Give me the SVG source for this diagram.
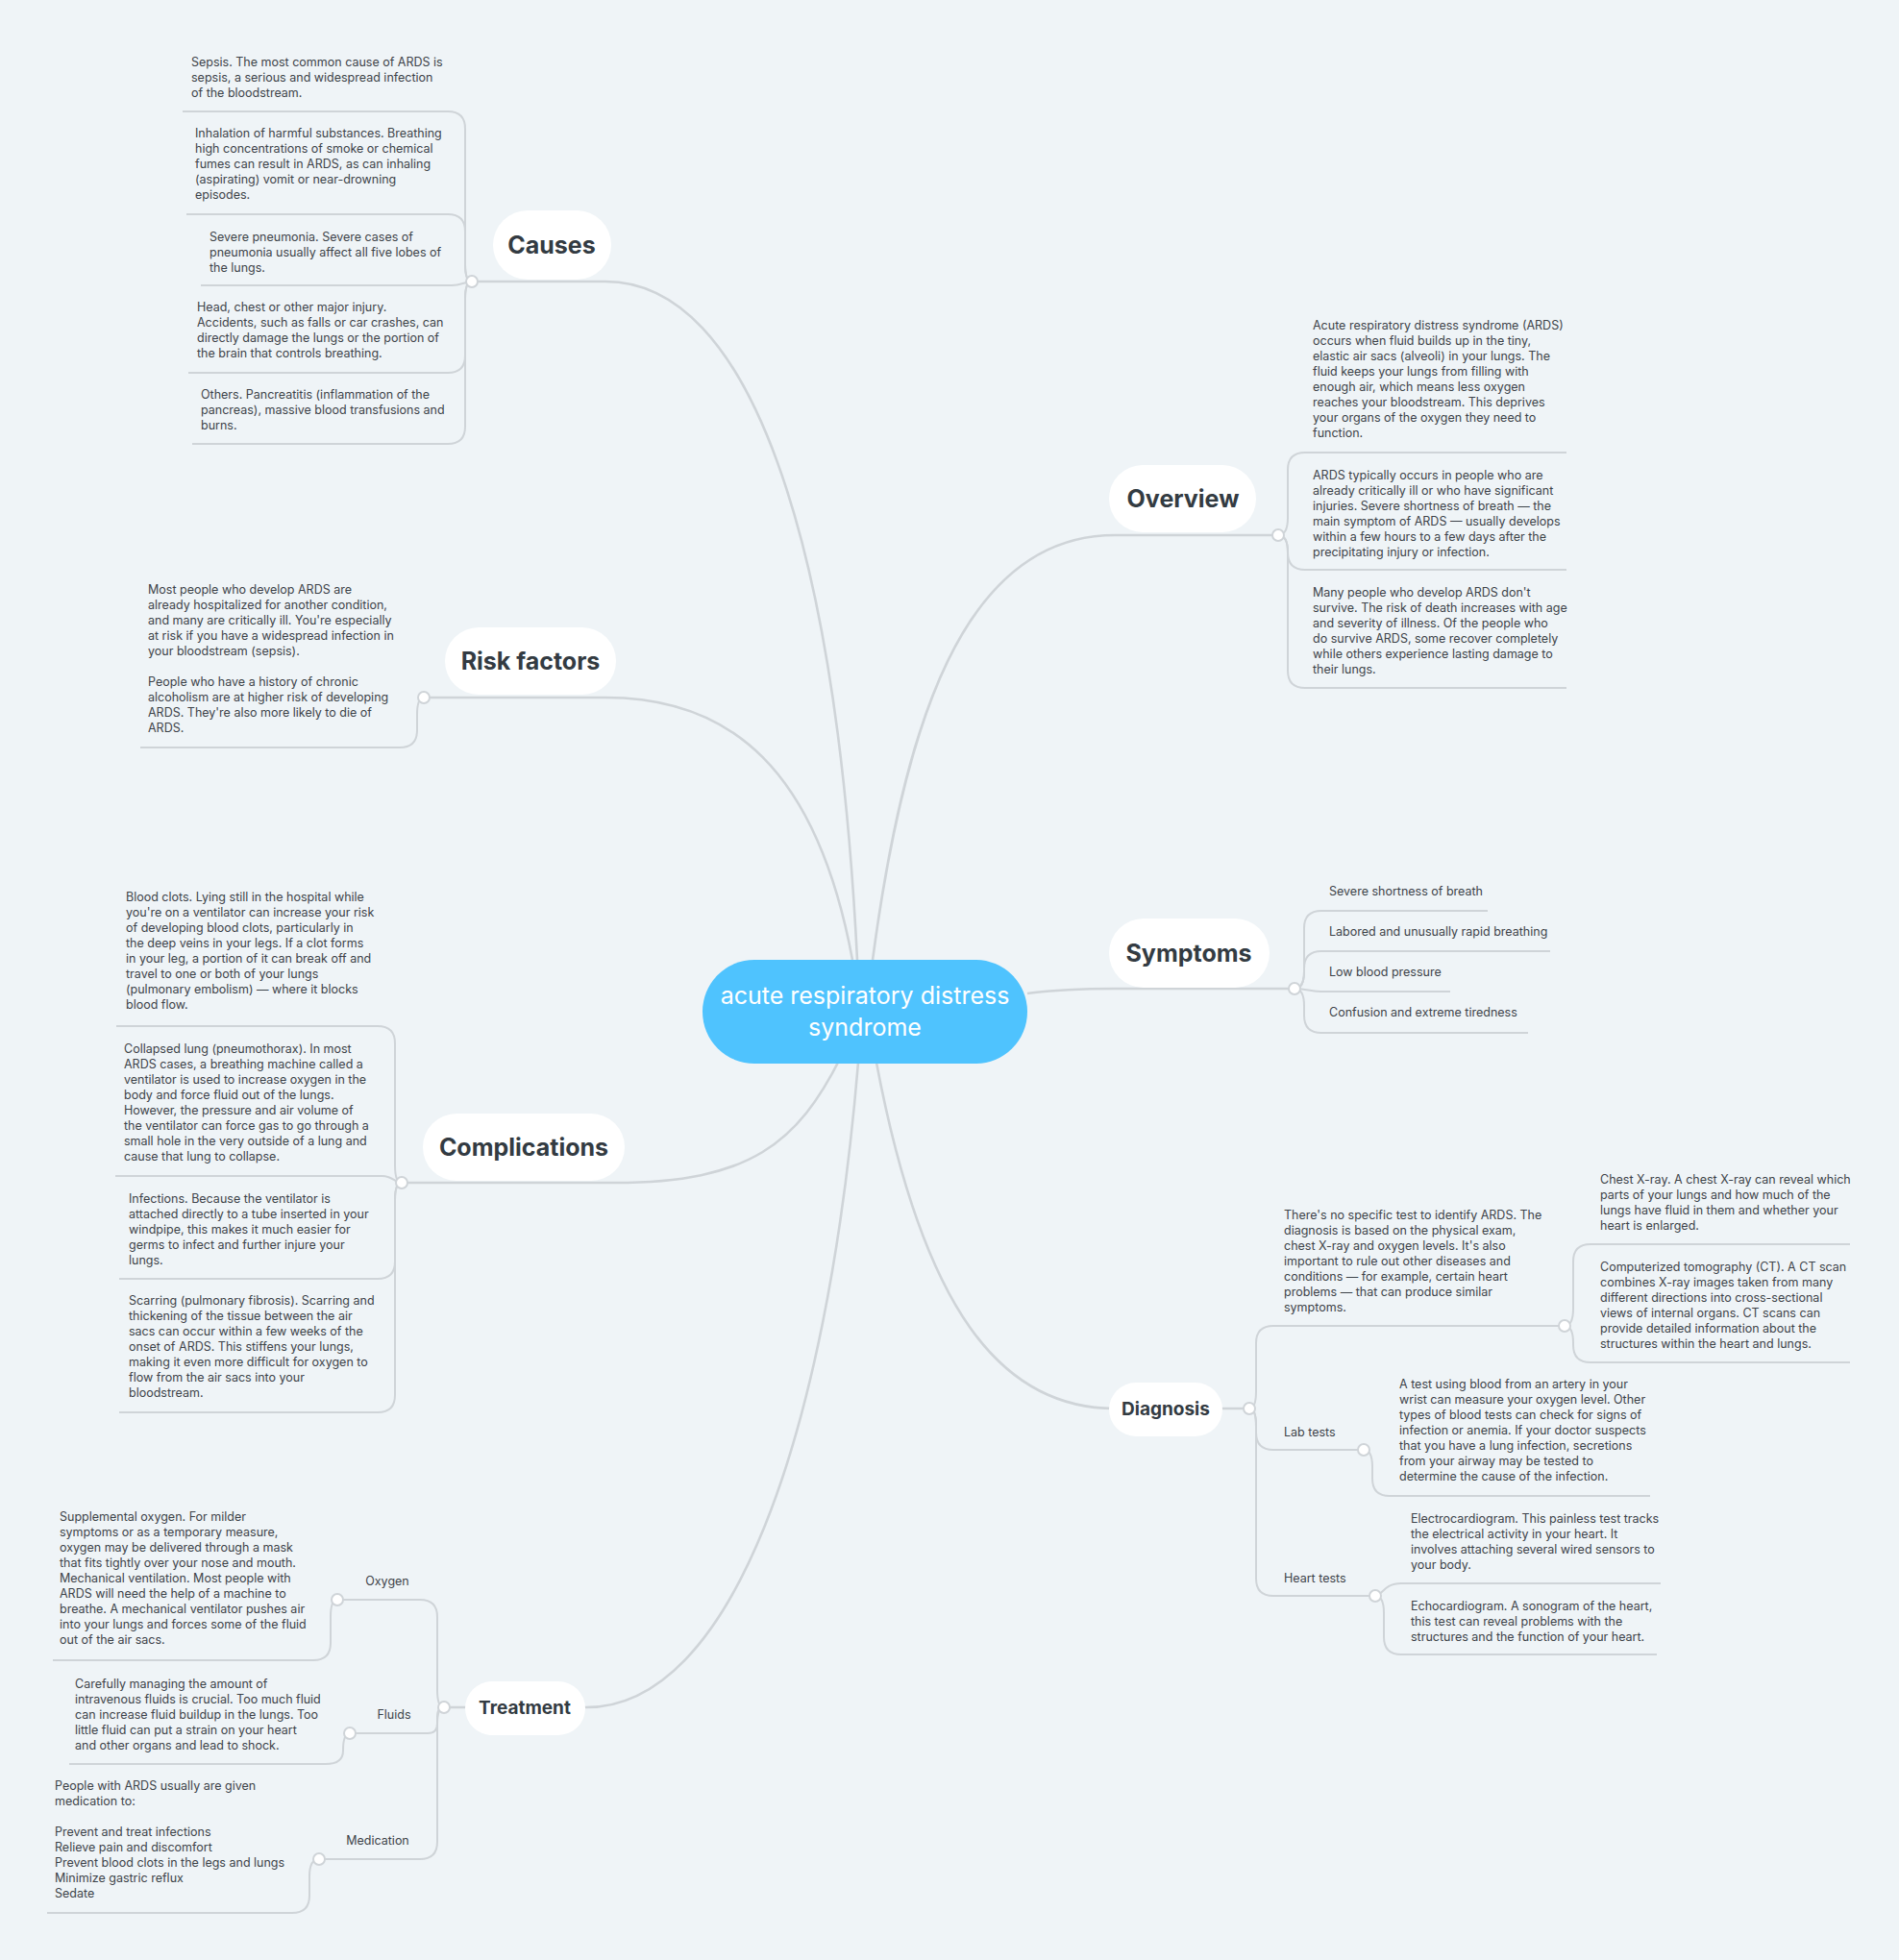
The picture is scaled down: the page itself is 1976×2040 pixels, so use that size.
<svg xmlns="http://www.w3.org/2000/svg" width="1976" height="2040" viewBox="0 0 1976 2040">
<style>
.bg{fill:#eff4f7}
.l{fill:none;stroke:#cfd4d8;stroke-width:2}
.m{fill:none;stroke:#cfd4d8;stroke-width:2.6}
.j{fill:#fff;stroke:#cfd4d8;stroke-width:2}
.t{font-family:Inter,"Noto Sans",sans-serif;font-size:12.5px;fill:#3d4349}
.p{fill:#fff}
.h{font-family:Inter,"Noto Sans",sans-serif;font-weight:700;font-size:25px;fill:#333b42;text-anchor:middle}
.s{font-family:Inter,"Noto Sans",sans-serif;font-weight:700;font-size:19px;fill:#333b42;text-anchor:middle}
</style>
<rect class="bg" width="1976" height="2040"/>
<g id="connectors">
<path class="m" d="M892 999 C870 560 780 293 630 293 L497 293"/>
<path class="m" d="M887 999 C850 800 760 726 630 726 L447 726"/>
<path class="m" d="M875 1100 C830 1190 780 1231 640 1231 L424 1231"/>
<path class="m" d="M893 1106 C860 1500 760 1777 610 1777 L468 1777"/>
<path class="m" d="M908 999 C940 760 1000 557 1160 557 L1324 557"/>
<path class="m" d="M1069 1034 C1100 1030 1130 1029 1160 1029 L1341 1029"/>
<path class="m" d="M912 1106 C960 1360 1040 1466 1160 1466 L1294 1466"/>
<path class="l" d="M190 116 H466 Q484 116 484 134 V275 Q484 293 491 293"/>
<path class="l" d="M194 223 H466 Q484 223 484 241 V275 Q484 293 491 293"/>
<path class="l" d="M209 297 H470 C480 297 484 293 491 293"/>
<path class="l" d="M196 388 H466 Q484 388 484 370 V311 Q484 293 491 293"/>
<path class="l" d="M200 462 H466 Q484 462 484 444 V311 Q484 293 491 293"/>
<path class="l" d="M146 778 H416 Q434 778 434 760 V744 Q434 726 441 726"/>
<path class="l" d="M121 1068 H393 Q411 1068 411 1086 V1213 Q411 1231 418 1231"/>
<path class="l" d="M120 1224 H398 C408 1224 411 1231 418 1231"/>
<path class="l" d="M124 1331 H393 Q411 1331 411 1313 V1249 Q411 1231 418 1231"/>
<path class="l" d="M124 1470 H393 Q411 1470 411 1452 V1249 Q411 1231 418 1231"/>
<path class="l" d="M351 1665 H437 Q455 1665 455 1683 V1759 Q455 1777 462 1777"/>
<path class="l" d="M364 1804 H445 Q455 1804 455 1794 V1787 Q455 1777 462 1777"/>
<path class="l" d="M332 1935 H437 Q455 1935 455 1917 V1795 Q455 1777 462 1777"/>
<path class="l" d="M55 1728 H326 Q344 1728 344 1710 V1683 Q344 1665 351 1665"/>
<path class="l" d="M72 1836 H339 Q357 1836 357 1822 Q357 1804 364 1804"/>
<path class="l" d="M49 1991 H304 Q322 1991 322 1973 V1953 Q322 1935 332 1935"/>
<path class="l" d="M1330 557 Q1340 557 1340 539 V489 Q1340 471 1358 471 H1630"/>
<path class="l" d="M1330 557 Q1340 557 1340 575 Q1340 593 1358 593 H1630"/>
<path class="l" d="M1330 557 Q1340 557 1340 575 V698 Q1340 716 1358 716 H1630"/>
<path class="l" d="M1347 1029 Q1357 1029 1357 1011 V966 Q1357 948 1375 948 H1548"/>
<path class="l" d="M1347 1029 Q1357 1029 1357 1011 V1008 Q1357 990 1375 990 H1613"/>
<path class="l" d="M1347 1029 C1360 1029 1365 1032 1375 1032 H1509"/>
<path class="l" d="M1347 1029 Q1357 1029 1357 1047 V1057 Q1357 1075 1375 1075 H1590"/>
<path class="l" d="M1300 1466 Q1307 1466 1307 1448 V1398 Q1307 1380 1325 1380 H1628"/>
<path class="l" d="M1300 1466 Q1307 1466 1307 1484 V1491 Q1307 1509 1325 1509 H1419"/>
<path class="l" d="M1300 1466 Q1307 1466 1307 1484 V1643 Q1307 1661 1325 1661 H1431"/>
<path class="l" d="M1628 1380 Q1637 1380 1637 1362 V1313 Q1637 1295 1655 1295 H1925"/>
<path class="l" d="M1628 1380 Q1637 1380 1637 1398 V1400 Q1637 1418 1655 1418 H1925"/>
<path class="l" d="M1419 1509 Q1428 1509 1428 1527 V1539 Q1428 1557 1446 1557 H1717"/>
<path class="l" d="M1431 1661 C1438 1661 1440 1648 1458 1648 H1728"/>
<path class="l" d="M1431 1661 Q1440 1661 1440 1679 V1704 Q1440 1722 1458 1722 H1724"/>
<circle class="j" cx="491" cy="293" r="6"/>
<circle class="j" cx="441" cy="726" r="6"/>
<circle class="j" cx="418" cy="1231" r="6"/>
<circle class="j" cx="462" cy="1777" r="6"/>
<circle class="j" cx="351" cy="1665" r="6"/>
<circle class="j" cx="364" cy="1804" r="6"/>
<circle class="j" cx="332" cy="1935" r="6"/>
<circle class="j" cx="1330" cy="557" r="6"/>
<circle class="j" cx="1347" cy="1029" r="6"/>
<circle class="j" cx="1300" cy="1466" r="6"/>
<circle class="j" cx="1628" cy="1380" r="6"/>
<circle class="j" cx="1419" cy="1509" r="6"/>
<circle class="j" cx="1431" cy="1661" r="6"/>
</g>
<g id="root">
<rect x="731" y="999" width="338" height="108" rx="54" fill="#4fc3fe"/>
<text font-family="Inter,'Noto Sans',sans-serif" font-size="25" fill="#fff" text-anchor="middle"><tspan x="900" y="1045">acute respiratory distress</tspan><tspan x="900" y="1078">syndrome</tspan></text>
</g>
<g id="causes"><rect class="p" x="513" y="219" width="123" height="72" rx="36"/><text class="h" x="574" y="264">Causes</text></g>
<g id="overview"><rect class="p" x="1154" y="484" width="153" height="70" rx="35"/><text class="h" x="1231" y="528">Overview</text></g>
<g id="risk"><rect class="p" x="463" y="653" width="178" height="70" rx="35"/><text class="h" x="552" y="697">Risk factors</text></g>
<g id="symptoms"><rect class="p" x="1154" y="956" width="167" height="72" rx="36"/><text class="h" x="1237" y="1001">Symptoms</text></g>
<g id="complications"><rect class="p" x="440" y="1159" width="210" height="70" rx="35"/><text class="h" x="545" y="1203">Complications</text></g>
<g id="diagnosis"><rect class="p" x="1154" y="1439" width="118" height="56" rx="28"/><text class="s" x="1213" y="1473">Diagnosis</text></g>
<g id="treatment"><rect class="p" x="484" y="1750" width="125" height="56" rx="28"/><text class="s" x="546" y="1784">Treatment</text></g>
<g id="causes-items">
<text class="t"><tspan x="199" y="69">Sepsis. The most common cause of ARDS is</tspan><tspan x="199" y="85">sepsis, a serious and widespread infection</tspan><tspan x="199" y="101">of the bloodstream.</tspan></text>
<text class="t"><tspan x="203" y="143">Inhalation of harmful substances. Breathing</tspan><tspan x="203" y="159">high concentrations of smoke or chemical</tspan><tspan x="203" y="175">fumes can result in ARDS, as can inhaling</tspan><tspan x="203" y="191">(aspirating) vomit or near-drowning</tspan><tspan x="203" y="207">episodes.</tspan></text>
<text class="t"><tspan x="218" y="251">Severe pneumonia. Severe cases of</tspan><tspan x="218" y="267">pneumonia usually affect all five lobes of</tspan><tspan x="218" y="283">the lungs.</tspan></text>
<text class="t"><tspan x="205" y="324">Head, chest or other major injury.</tspan><tspan x="205" y="340">Accidents, such as falls or car crashes, can</tspan><tspan x="205" y="356">directly damage the lungs or the portion of</tspan><tspan x="205" y="372">the brain that controls breathing.</tspan></text>
<text class="t"><tspan x="209" y="415">Others. Pancreatitis (inflammation of the</tspan><tspan x="209" y="431">pancreas), massive blood transfusions and</tspan><tspan x="209" y="447">burns.</tspan></text>
</g>
<g id="risk-items">
<text class="t"><tspan x="154" y="618">Most people who develop ARDS are</tspan><tspan x="154" y="634">already hospitalized for another condition,</tspan><tspan x="154" y="650">and many are critically ill. You're especially</tspan><tspan x="154" y="666">at risk if you have a widespread infection in</tspan><tspan x="154" y="682">your bloodstream (sepsis).</tspan><tspan x="154" y="714">People who have a history of chronic</tspan><tspan x="154" y="730">alcoholism are at higher risk of developing</tspan><tspan x="154" y="746">ARDS. They're also more likely to die of</tspan><tspan x="154" y="762">ARDS.</tspan></text>
</g>
<g id="complications-items">
<text class="t"><tspan x="131" y="938">Blood clots. Lying still in the hospital while</tspan><tspan x="131" y="954">you're on a ventilator can increase your risk</tspan><tspan x="131" y="970">of developing blood clots, particularly in</tspan><tspan x="131" y="986">the deep veins in your legs. If a clot forms</tspan><tspan x="131" y="1002">in your leg, a portion of it can break off and</tspan><tspan x="131" y="1018">travel to one or both of your lungs</tspan><tspan x="131" y="1034">(pulmonary embolism) — where it blocks</tspan><tspan x="131" y="1050">blood flow.</tspan></text>
<text class="t"><tspan x="129" y="1096">Collapsed lung (pneumothorax). In most</tspan><tspan x="129" y="1112">ARDS cases, a breathing machine called a</tspan><tspan x="129" y="1128">ventilator is used to increase oxygen in the</tspan><tspan x="129" y="1144">body and force fluid out of the lungs.</tspan><tspan x="129" y="1160">However, the pressure and air volume of</tspan><tspan x="129" y="1176">the ventilator can force gas to go through a</tspan><tspan x="129" y="1192">small hole in the very outside of a lung and</tspan><tspan x="129" y="1208">cause that lung to collapse.</tspan></text>
<text class="t"><tspan x="134" y="1252">Infections. Because the ventilator is</tspan><tspan x="134" y="1268">attached directly to a tube inserted in your</tspan><tspan x="134" y="1284">windpipe, this makes it much easier for</tspan><tspan x="134" y="1300">germs to infect and further injure your</tspan><tspan x="134" y="1316">lungs.</tspan></text>
<text class="t"><tspan x="134" y="1358">Scarring (pulmonary fibrosis). Scarring and</tspan><tspan x="134" y="1374">thickening of the tissue between the air</tspan><tspan x="134" y="1390">sacs can occur within a few weeks of the</tspan><tspan x="134" y="1406">onset of ARDS. This stiffens your lungs,</tspan><tspan x="134" y="1422">making it even more difficult for oxygen to</tspan><tspan x="134" y="1438">flow from the air sacs into your</tspan><tspan x="134" y="1454">bloodstream.</tspan></text>
</g>
<g id="treatment-items">
<text class="t" x="403" y="1650" text-anchor="middle">Oxygen</text>
<text class="t" x="410" y="1789" text-anchor="middle">Fluids</text>
<text class="t" x="393" y="1920" text-anchor="middle">Medication</text>
<text class="t"><tspan x="62" y="1583">Supplemental oxygen. For milder</tspan><tspan x="62" y="1599">symptoms or as a temporary measure,</tspan><tspan x="62" y="1615">oxygen may be delivered through a mask</tspan><tspan x="62" y="1631">that fits tightly over your nose and mouth.</tspan><tspan x="62" y="1647">Mechanical ventilation. Most people with</tspan><tspan x="62" y="1663">ARDS will need the help of a machine to</tspan><tspan x="62" y="1679">breathe. A mechanical ventilator pushes air</tspan><tspan x="62" y="1695">into your lungs and forces some of the fluid</tspan><tspan x="62" y="1711">out of the air sacs.</tspan></text>
<text class="t"><tspan x="78" y="1757">Carefully managing the amount of</tspan><tspan x="78" y="1773">intravenous fluids is crucial. Too much fluid</tspan><tspan x="78" y="1789">can increase fluid buildup in the lungs. Too</tspan><tspan x="78" y="1805">little fluid can put a strain on your heart</tspan><tspan x="78" y="1821">and other organs and lead to shock.</tspan></text>
<text class="t"><tspan x="57" y="1863">People with ARDS usually are given</tspan><tspan x="57" y="1879">medication to:</tspan><tspan x="57" y="1911">Prevent and treat infections</tspan><tspan x="57" y="1927">Relieve pain and discomfort</tspan><tspan x="57" y="1943">Prevent blood clots in the legs and lungs</tspan><tspan x="57" y="1959">Minimize gastric reflux</tspan><tspan x="57" y="1975">Sedate</tspan></text>
</g>
<g id="overview-items">
<text class="t"><tspan x="1366" y="343">Acute respiratory distress syndrome (ARDS)</tspan><tspan x="1366" y="359">occurs when fluid builds up in the tiny,</tspan><tspan x="1366" y="375">elastic air sacs (alveoli) in your lungs. The</tspan><tspan x="1366" y="391">fluid keeps your lungs from filling with</tspan><tspan x="1366" y="407">enough air, which means less oxygen</tspan><tspan x="1366" y="423">reaches your bloodstream. This deprives</tspan><tspan x="1366" y="439">your organs of the oxygen they need to</tspan><tspan x="1366" y="455">function.</tspan></text>
<text class="t"><tspan x="1366" y="499">ARDS typically occurs in people who are</tspan><tspan x="1366" y="515">already critically ill or who have significant</tspan><tspan x="1366" y="531">injuries. Severe shortness of breath — the</tspan><tspan x="1366" y="547">main symptom of ARDS — usually develops</tspan><tspan x="1366" y="563">within a few hours to a few days after the</tspan><tspan x="1366" y="579">precipitating injury or infection.</tspan></text>
<text class="t"><tspan x="1366" y="621">Many people who develop ARDS don't</tspan><tspan x="1366" y="637">survive. The risk of death increases with age</tspan><tspan x="1366" y="653">and severity of illness. Of the people who</tspan><tspan x="1366" y="669">do survive ARDS, some recover completely</tspan><tspan x="1366" y="685">while others experience lasting damage to</tspan><tspan x="1366" y="701">their lungs.</tspan></text>
</g>
<g id="symptoms-items">
<text class="t" x="1383" y="932">Severe shortness of breath</text>
<text class="t" x="1383" y="974">Labored and unusually rapid breathing</text>
<text class="t" x="1383" y="1016">Low blood pressure</text>
<text class="t" x="1383" y="1058">Confusion and extreme tiredness</text>
</g>
<g id="diagnosis-items">
<text class="t"><tspan x="1336" y="1269">There's no specific test to identify ARDS. The</tspan><tspan x="1336" y="1285">diagnosis is based on the physical exam,</tspan><tspan x="1336" y="1301">chest X-ray and oxygen levels. It's also</tspan><tspan x="1336" y="1317">important to rule out other diseases and</tspan><tspan x="1336" y="1333">conditions — for example, certain heart</tspan><tspan x="1336" y="1349">problems — that can produce similar</tspan><tspan x="1336" y="1365">symptoms.</tspan></text>
<text class="t"><tspan x="1665" y="1232">Chest X-ray. A chest X-ray can reveal which</tspan><tspan x="1665" y="1248">parts of your lungs and how much of the</tspan><tspan x="1665" y="1264">lungs have fluid in them and whether your</tspan><tspan x="1665" y="1280">heart is enlarged.</tspan></text>
<text class="t"><tspan x="1665" y="1323">Computerized tomography (CT). A CT scan</tspan><tspan x="1665" y="1339">combines X-ray images taken from many</tspan><tspan x="1665" y="1355">different directions into cross-sectional</tspan><tspan x="1665" y="1371">views of internal organs. CT scans can</tspan><tspan x="1665" y="1387">provide detailed information about the</tspan><tspan x="1665" y="1403">structures within the heart and lungs.</tspan></text>
<text class="t" x="1336" y="1495">Lab tests</text>
<text class="t"><tspan x="1456" y="1445">A test using blood from an artery in your</tspan><tspan x="1456" y="1461">wrist can measure your oxygen level. Other</tspan><tspan x="1456" y="1477">types of blood tests can check for signs of</tspan><tspan x="1456" y="1493">infection or anemia. If your doctor suspects</tspan><tspan x="1456" y="1509">that you have a lung infection, secretions</tspan><tspan x="1456" y="1525">from your airway may be tested to</tspan><tspan x="1456" y="1541">determine the cause of the infection.</tspan></text>
<text class="t" x="1336" y="1647">Heart tests</text>
<text class="t"><tspan x="1468" y="1585">Electrocardiogram. This painless test tracks</tspan><tspan x="1468" y="1601">the electrical activity in your heart. It</tspan><tspan x="1468" y="1617">involves attaching several wired sensors to</tspan><tspan x="1468" y="1633">your body.</tspan></text>
<text class="t"><tspan x="1468" y="1676">Echocardiogram. A sonogram of the heart,</tspan><tspan x="1468" y="1692">this test can reveal problems with the</tspan><tspan x="1468" y="1708">structures and the function of your heart.</tspan></text>
</g>
</svg>
